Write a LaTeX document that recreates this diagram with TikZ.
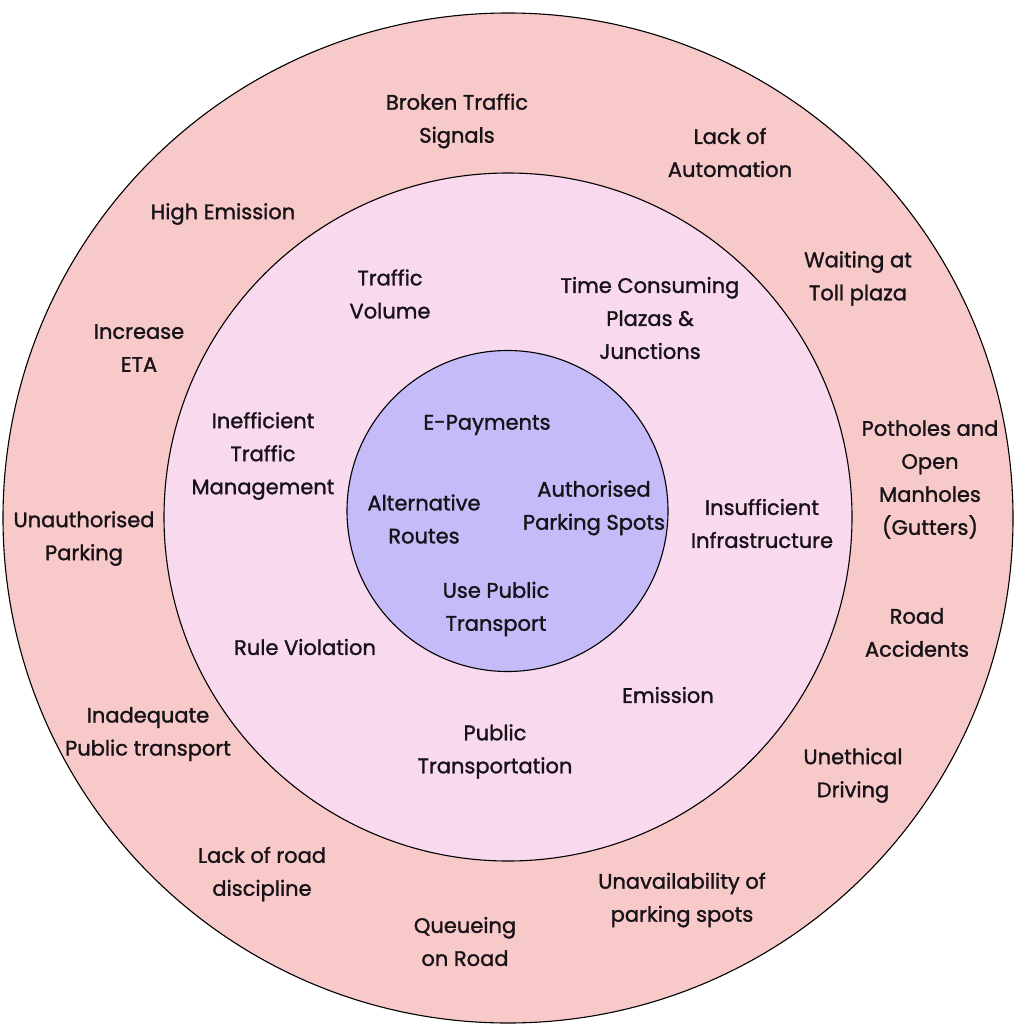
\documentclass[tikz,border=0pt]{standalone}
\usepackage{fontspec}
\setmainfont{Poppins}[FakeBold=1.3]
\definecolor{outerpink}{RGB}{248,201,201}
\definecolor{midpink}{RGB}{249,217,237}
\definecolor{innerlav}{RGB}{197,187,249}
\definecolor{txt}{RGB}{22,18,24}
\begin{document}
\begin{tikzpicture}[x=1pt,y=-1pt,
  ring/.style={draw=black,line width=1.1pt},
  lbl/.style={align=center,inner sep=0pt,text=txt,font=\fontsize{21}{33}\selectfont}]
\useasboundingbox (0,0) rectangle (1032,1035);
\fill[white] (0,0) rectangle (1032,1035);
\coordinate (co) at (508,518);
\coordinate (cm) at (508,517);
\coordinate (ci) at (507.5,511);
\path[ring,fill=outerpink] (co) circle[radius=505pt];
\path[ring,fill=midpink] (cm) circle[radius=344pt];
\path[ring,fill=innerlav] (ci) circle[radius=160.5pt];
% outer ring
\node[lbl] (o1) at (457,121) {Broken Traffic\\Signals};
\node[lbl] (o2) at (730,152.5) {Lack of\\Automation};
\node[lbl] (o3) at (223,214) {High Emission};
\node[lbl] (o4) at (858,278.5) {Waiting at\\Toll plaza};
\node[lbl] (o5) at (139,348) {Increase\\ETA};
\node[lbl] (o6) at (930,479.5) {Potholes and\\Open\\Manholes\\(Gutters)};
\node[lbl] (o7) at (84,538.5) {Unauthorised\\Parking};
\node[lbl] (o8) at (917,632.5) {Road\\Accidents};
\node[lbl] (o9) at (148,734) {Inadequate\\Public transport};
\node[lbl] (o10) at (853,775.5) {Unethical\\Driving};
\node[lbl] (o11) at (262,874) {Lack of road\\discipline};
\node[lbl] (o12) at (682,900) {Unavailability of\\parking spots};
\node[lbl] (o13) at (465,941.5) {Queueing\\on Road};
% middle ring
\node[lbl] (m1) at (390,294) {Traffic\\Volume};
\node[lbl] (m2) at (650,318) {Time Consuming\\Plazas \&\\Junctions};
\node[lbl] (m3) at (263,456) {Inefficient\\Traffic\\Management};
\node[lbl] (m4) at (762,523.5) {Insufficient\\Infrastructure};
\node[lbl] (m5) at (305,647) {Rule Violation};
\node[lbl] (m6) at (668,695) {Emission};
\node[lbl] (m7) at (495,751.5) {Public\\Transportation};
% inner circle
\node[lbl] (i1) at (487,425) {E-Payments};
\node[lbl] (i2) at (424,519) {Alternative\\Routes};
\node[lbl] (i3) at (594,508) {Authorised\\Parking Spots};
\node[lbl] (i4) at (496,609) {Use Public\\Transport};
\end{tikzpicture}
\end{document}
